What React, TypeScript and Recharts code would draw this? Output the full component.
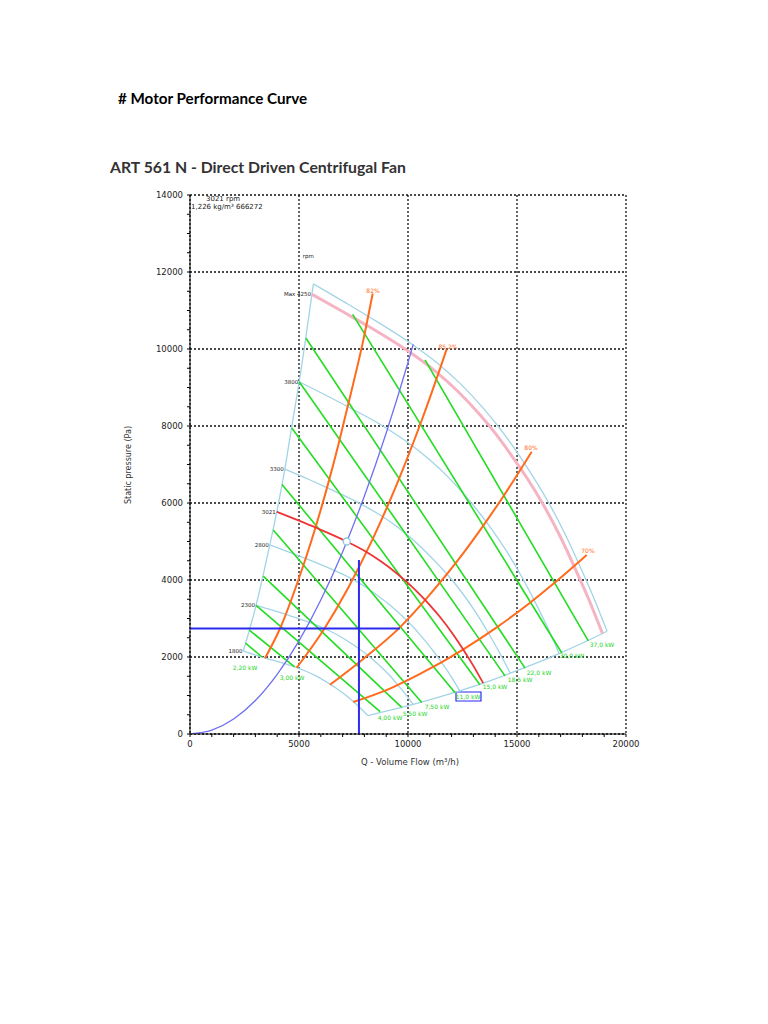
import React from 'react';
import { ComposedChart, Line, Scatter, XAxis, YAxis, CartesianGrid, ReferenceArea } from 'recharts';

// ---------- axes ----------
const xTicks = [0, 1000, 2000, 3000, 4000, 5000, 6000, 7000, 8000, 9000, 10000, 11000, 12000, 13000, 14000, 15000, 16000, 17000, 18000, 19000, 20000];
const yTicks = [0, 500, 1000, 1500, 2000, 2500, 3000, 3500, 4000, 4500, 5000, 5500, 6000, 6500, 7000, 7500, 8000, 8500, 9000, 9500, 10000, 10500, 11000, 11500, 12000, 12500, 13000, 13500, 14000];
const xLabelled = [0, 5000, 10000, 15000, 20000];
const yLabelled = [0, 2000, 4000, 6000, 8000, 10000, 12000, 14000];

// ---------- fan envelope ----------
const envelopeLeft = [[2450, 2160], [3030, 3340], [3660, 4910], [3980, 5770], [4350, 6880], [4660, 7960], [5010, 9150], [5660, 11690]];
const envelopeTop = [[5660, 11690], [7110, 11210], [8260, 10820], [10220, 10110], [11380, 9620], [12400, 9100], [13440, 8470], [14140, 7990], [15000, 7320], [15640, 6770], [16310, 6150], [17180, 5220], [17830, 4430], [18490, 3580], [19130, 2670]];
const envelopeBottom = [[8150, 480], [10240, 770], [12370, 1120], [13450, 1320], [14690, 1580], [16930, 2090], [18920, 2610], [19130, 2670]];

// ---------- rpm curves ----------
const rpm1800 = [[2450, 2160], [3050, 2040], [3540, 1960], [4390, 1820], [4880, 1730], [5320, 1630], [5780, 1510], [6060, 1420], [6440, 1290], [6710, 1190], [7000, 1070], [7370, 900], [7650, 760], [7930, 610], [8150, 480]];
const rpm2300 = [[3030, 3340], [3810, 3210], [4420, 3100], [5470, 2900], [6090, 2760], [6640, 2610], [7190, 2430], [7560, 2290], [8030, 2100], [8370, 1940], [8730, 1760], [9190, 1500], [9540, 1270], [9890, 1030], [10240, 770]];
const rpm2800 = [[3660, 4910], [4600, 4710], [5350, 4550], [6620, 4250], [7360, 4050], [8020, 3830], [8690, 3560], [9150, 3360], [9710, 3080], [10120, 2850], [10550, 2580], [11110, 2190], [11540, 1860], [11960, 1510], [12370, 1120]];
const rpm3021 = [[3980, 5770], [5000, 5540], [5810, 5350], [7190, 5000], [8000, 4760], [8720, 4500], [9450, 4190], [9940, 3950], [10550, 3620], [11000, 3350], [11470, 3040], [12080, 2580], [12540, 2190], [13000, 1770], [13450, 1320]];
const rpm3300 = [[4350, 6880], [5460, 6610], [6350, 6380], [7850, 5970], [8740, 5680], [9530, 5370], [10320, 5000], [10860, 4710], [11520, 4320], [12020, 4000], [12530, 3630], [13200, 3080], [13700, 2610], [14200, 2110], [14690, 1580]];
const rpm3800 = [[5010, 9150], [6300, 8780], [7310, 8480], [9050, 7930], [10070, 7540], [10980, 7130], [11900, 6640], [12510, 6260], [13280, 5740], [13850, 5310], [14440, 4820], [15210, 4090], [15790, 3470], [16370, 2810], [16930, 2090]];
const rpmMax4250 = [[5600, 11420], [7040, 10960], [8180, 10590], [10120, 9900], [11260, 9420], [12270, 8910], [13300, 8290], [13990, 7820], [14840, 7160], [15480, 6630], [16140, 6020], [17000, 5110], [17640, 4330], [18290, 3500], [18920, 2610]];

// ---------- efficiency lines ----------
const eff82 = [[3440, 1970], [4130, 2740], [4970, 4000], [5580, 5040], [6340, 6510], [6800, 7500], [7190, 8410], [7950, 10230], [8380, 11440]];
const eff852 = [[4890, 1720], [6110, 2690], [7260, 3800], [8410, 5100], [9480, 6480], [10630, 8150], [11470, 9490], [11770, 9990]];
const eff80 = [[6420, 1280], [7950, 1950], [9630, 2770], [11000, 3620], [12300, 4520], [13300, 5290], [14370, 6170], [15670, 7330]];
const eff70 = [[7490, 830], [9170, 1180], [10550, 1560], [12540, 2200], [14070, 2770], [15600, 3410], [16670, 3900], [18200, 4650]];

// ---------- motor power lines (kW) ----------
const pw220 = [[2550, 2360], [3300, 2000]];
const pw300 = [[2720, 2700], [4800, 1745]];
const pw400 = [[3030, 3340], [8720, 580]];
const pw550 = [[3360, 4100], [9710, 690]];
const pw750 = [[3820, 5300], [10630, 820]];
const pw1100 = [[4220, 6480], [12160, 1070]];
const pw1500 = [[4670, 7950], [13300, 1280]];
const pw1850 = [[5010, 9150], [14450, 1510]];
const pw2200 = [[5320, 10280], [15370, 1710]];
const pw3000 = [[7460, 10900], [17050, 2110]];
const pw3700 = [[10780, 9720], [18270, 2420]];

// ---------- system / duty ----------
const systemCurve = [[0, 0], [1000, 100], [2000, 390], [3000, 870], [4000, 1550], [5000, 2420], [6000, 3480], [7000, 4730], [8000, 6180], [9000, 7820], [10000, 9650], [10240, 10120]];
const dutyFlowLine = [[7750, 0], [7750, 4520]];
const dutyPressureLine = [[0, 2740], [9630, 2740]];
const dutyPoint = [[7190, 5000]];

// ---------- labels ----------
const rpmLabels = [
  { x: 5600, y: 11420, text: 'Max 4250' },
  { x: 5010, y: 9150, text: '3800' },
  { x: 4350, y: 6880, text: '3300' },
  { x: 3980, y: 5770, text: '3021' },
  { x: 3660, y: 4910, text: '2800' },
  { x: 3030, y: 3340, text: '2300' },
  { x: 2450, y: 2160, text: '1800' },
];
const rpmUnitLabel = [{ x: 5170, y: 12420, text: 'rpm' }];
const infoLabels = [
  { x: 688, y: 13890, text: '3021 rpm' },
  { x: 0, y: 13690, text: '1,226 kg/m³ 666272' },
];
const effLabels = [
  { x: 8394, y: 11531, text: '82%' },
  { x: 11834, y: 10076, text: '85,2%' },
  { x: 15642, y: 7453, text: '80%' },
  { x: 18256, y: 4779, text: '70%' },
];
const powerLabels = [
  { x: 2523, y: 1740, text: '2,20 kW' },
  { x: 4679, y: 1480, text: '3,00 kW' },
  { x: 9174, y: 441, text: '4,00 kW' },
  { x: 10321, y: 545, text: '5,50 kW' },
  { x: 11330, y: 727, text: '7,50 kW' },
  { x: 12752, y: 987, text: '11,0 kW' },
  { x: 13990, y: 1221, text: '15,0 kW' },
  { x: 15137, y: 1428, text: '18,5 kW' },
  { x: 16009, y: 1610, text: '22,0 kW' },
  { x: 17522, y: 2026, text: '30,0 kW' },
  { x: 18898, y: 2337, text: '37,0 kW' },
];
const selectedPowerBox = { x1: 12202, x2: 13348, y1: 857, y2: 1091 };

const pts = (a: number[][]) => a.map(([x, y]) => ({ x, y }));

const LIGHT_BLUE = '#a2d4e5';
const PINK = '#f5b4c4';
const GREEN = '#22dd22';
const ORANGE = '#ff6a1c';
const RED = '#ee3535';
const SYS_BLUE = '#6f6ff2';
const DUTY_BLUE = '#2b2bef';

const lightBlueSeries = [envelopeLeft, envelopeTop, envelopeBottom, rpm1800, rpm2300, rpm2800, rpm3300, rpm3800];
const powerSeries = [pw220, pw300, pw400, pw550, pw750, pw1100, pw1500, pw1850, pw2200, pw3000, pw3700];
const effSeries = [eff82, eff852, eff80, eff70];

const textShape = (color: string, size: number, anchor: string, dx = 0) => (props: any) => {
  const { cx, cy, payload } = props;
  if (cx == null || cy == null) return <g />;
  return (
    <text x={cx + dx} y={cy} fill={color} fontSize={size} textAnchor={anchor} dominantBaseline="central" fontFamily="DejaVu Sans">
      {payload.text}
    </text>
  );
};

export default function App() {
  return (
    <div style={{ position: 'absolute', left: 0, top: 0, width: 768, height: 1024, background: '#fff' }}>
      <div style={{ position: 'absolute', left: 118, top: 89, fontFamily: 'Lato', fontWeight: 700, fontSize: 15.2, color: '#000', lineHeight: '18px', whiteSpace: 'nowrap' }}>
        # Motor Performance Curve
      </div>
      <div style={{ position: 'absolute', left: 110, top: 157, fontFamily: 'Lato', fontWeight: 700, fontSize: 15.8, color: '#333', lineHeight: '20px', whiteSpace: 'nowrap' }}>
        ART 561 N - Direct Driven Centrifugal Fan
      </div>
      <div style={{ position: 'absolute', left: 0, top: 0 }}>
        <ComposedChart width={768} height={800} margin={{ top: 195, right: 142, bottom: 36, left: 130 }} style={{ fontFamily: 'DejaVu Sans' }}>
          <CartesianGrid stroke="#111" strokeWidth={1.3} strokeDasharray="2 2" verticalValues={xLabelled} horizontalValues={yLabelled} />
          <XAxis
            type="number"
            dataKey="x"
            domain={[0, 20000]}
            allowDataOverflow
            ticks={xTicks}
            interval={0}
            tickFormatter={(v: number) => (xLabelled.includes(v) ? String(v) : '')}
            tickSize={3}
            tickMargin={4}
            height={30}
            axisLine={{ stroke: '#000' }}
            tickLine={{ stroke: '#000' }}
            tick={{ fontSize: 8.5, fill: '#222', fontFamily: 'DejaVu Sans' }}
          />
          <YAxis
            type="number"
            dataKey="y"
            domain={[0, 14000]}
            allowDataOverflow
            ticks={yTicks}
            interval={0}
            tickFormatter={(v: number) => (yLabelled.includes(v) ? String(v) : '')}
            tickSize={3}
            tickMargin={4}
            width={60}
            axisLine={{ stroke: '#000' }}
            tickLine={{ stroke: '#000' }}
            tick={{ fontSize: 8.5, fill: '#222', fontFamily: 'DejaVu Sans' }}
          />
          {lightBlueSeries.map((s, i) => (
            <Line key={'lb' + i} data={pts(s)} dataKey="y" type="monotone" stroke={LIGHT_BLUE} strokeWidth={1.3} dot={false} isAnimationActive={false} />
          ))}
          <Line data={pts(rpmMax4250)} dataKey="y" type="monotone" stroke={PINK} strokeWidth={3} dot={false} isAnimationActive={false} />
          {powerSeries.map((s, i) => (
            <Line key={'pw' + i} data={pts(s)} dataKey="y" type="linear" stroke={GREEN} strokeWidth={1.6} dot={false} isAnimationActive={false} />
          ))}
          {effSeries.map((s, i) => (
            <Line key={'ef' + i} data={pts(s)} dataKey="y" type="monotone" stroke={ORANGE} strokeWidth={2} dot={false} isAnimationActive={false} />
          ))}
          <Line data={pts(rpm3021)} dataKey="y" type="monotone" stroke={RED} strokeWidth={1.8} dot={false} isAnimationActive={false} />
          <Line data={pts(systemCurve)} dataKey="y" type="monotone" stroke={SYS_BLUE} strokeWidth={1.3} dot={false} isAnimationActive={false} />
          <Line data={pts(dutyFlowLine)} dataKey="y" type="linear" stroke={DUTY_BLUE} strokeWidth={2} dot={false} isAnimationActive={false} />
          <Line data={pts(dutyPressureLine)} dataKey="y" type="linear" stroke={DUTY_BLUE} strokeWidth={2} dot={false} isAnimationActive={false} />
          <ReferenceArea x1={selectedPowerBox.x1} x2={selectedPowerBox.x2} y1={selectedPowerBox.y1} y2={selectedPowerBox.y2} fill="none" fillOpacity={0} stroke={DUTY_BLUE} strokeWidth={1.2} ifOverflow="visible" />
          <Scatter
            data={pts(dutyPoint)}
            isAnimationActive={false}
            shape={(p: any) => <circle cx={p.cx} cy={p.cy} r={3.5} fill="#fff" stroke="#8cc8dc" strokeWidth={1.3} />}
          />
          <Scatter data={rpmLabels} isAnimationActive={false} shape={textShape('#222', 5.5, 'end', -1)} />
          <Scatter data={rpmUnitLabel} isAnimationActive={false} shape={textShape('#222', 5.5, 'start')} />
          <Scatter data={infoLabels} isAnimationActive={false} shape={textShape('#222', 7, 'start', 1)} />
          <Scatter data={effLabels} isAnimationActive={false} shape={textShape(ORANGE, 6, 'middle')} />
          <Scatter data={powerLabels} isAnimationActive={false} shape={textShape('#1ed41e', 6, 'middle')} />
        </ComposedChart>
      </div>
      <div style={{ position: 'absolute', left: 128, top: 465, transform: 'translate(-50%, -50%) rotate(-90deg)', fontFamily: 'DejaVu Sans', fontSize: 8, color: '#333', whiteSpace: 'nowrap' }}>
        Static pressure (Pa)
      </div>
      <div style={{ position: 'absolute', left: 410, top: 762, transform: 'translate(-50%, -50%)', fontFamily: 'DejaVu Sans', fontSize: 8.5, color: '#333', whiteSpace: 'nowrap' }}>
        Q - Volume Flow (m³/h)
      </div>
    </div>
  );
}
